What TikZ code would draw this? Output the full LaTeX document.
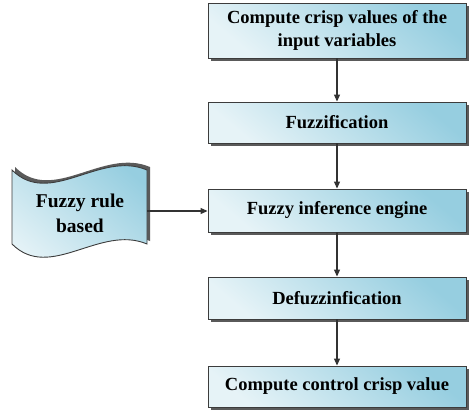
\documentclass[tikz,border=0pt]{standalone}
\usepackage{fontspec}
\setmainfont{Liberation Serif}
\usetikzlibrary{arrows.meta,shadows}
\definecolor{boxlight}{RGB}{230,243,247}
\definecolor{boxdark}{RGB}{150,206,224}
\definecolor{edge}{RGB}{60,60,60}
\definecolor{shadowc}{RGB}{90,90,90}
\definecolor{arrowc}{RGB}{50,50,50}
\tikzset{
  flowbox/.style={draw=edge, line width=0.9pt, rectangle, minimum width=258pt,
    top color=boxdark, bottom color=boxlight, shading angle=-40,
    drop shadow={shadow xshift=3pt, shadow yshift=-3pt, fill=shadowc, opacity=1},
    font=\bfseries\fontsize{18.5}{23}\selectfont, align=center, inner sep=0pt},
  flowarrow/.style={draw=arrowc, line width=1.1pt, -{Triangle[length=7pt,width=6pt]}},
  scrolltext/.style={font=\bfseries\fontsize{19.5}{25}\selectfont, align=center, inner sep=0pt}
}
\begin{document}
\begin{tikzpicture}[x=1pt,y=-1pt]
\useasboundingbox (0,0) rectangle (474,416);
\node[flowbox, minimum height=55pt] (b1) at (337,30.5) {Compute crisp values of the\\input variables};
\node[flowbox, minimum height=41pt] (b2) at (337,122.5) {Fuzzification};
\node[flowbox, minimum height=43pt] (b3) at (337,210.5) {Fuzzy inference engine};
\node[flowbox, minimum height=42pt] (b4) at (337,298) {Defuzzinfication};
\node[flowbox, minimum height=41pt] (b5) at (337,386.5) {Compute control crisp value};
% scroll shadow
\fill[shadowc] ([xshift=3pt,yshift=3pt]12,170) .. controls ([xshift=3pt,yshift=3pt]50,208) and ([xshift=3pt,yshift=3pt]100,150) .. ([xshift=3pt,yshift=3pt]147,170)
  -- ([xshift=3pt,yshift=3pt]147,244) .. controls ([xshift=3pt,yshift=3pt]100,224) and ([xshift=3pt,yshift=3pt]50,282) .. ([xshift=3pt,yshift=3pt]12,244) -- cycle;
\draw[draw=edge, line width=0.9pt, top color=boxdark, bottom color=boxlight, shading angle=-40]
  (12,170) .. controls (50,208) and (100,150) .. (147,170)
  -- (147,244) .. controls (100,224) and (50,282) .. (12,244) -- cycle;
\node[scrolltext] (rules) at (80,213) {Fuzzy rule\\based};
\coordinate (scrollE) at (147,211);
\draw[flowarrow] (b1) -- (b2);
\draw[flowarrow] (b2) -- (b3);
\draw[flowarrow] (b3) -- (b4);
\draw[flowarrow] (b4) -- (b5);
\draw[flowarrow] (scrollE) -- (scrollE -| b3.west);
\end{tikzpicture}
\end{document}
